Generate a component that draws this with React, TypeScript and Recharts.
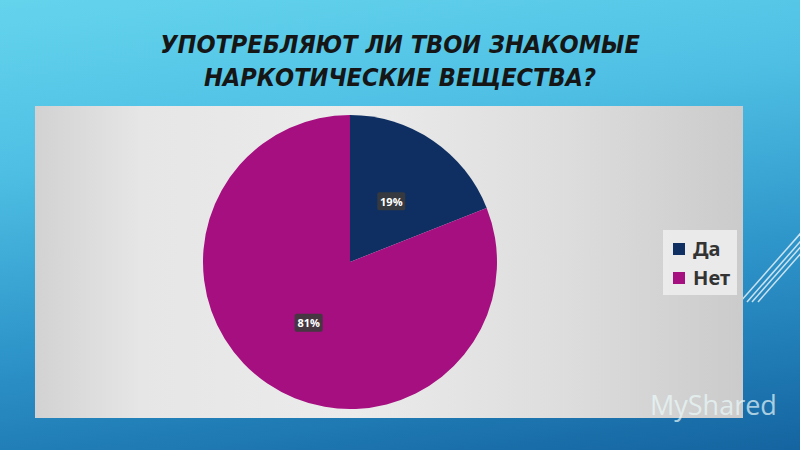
import React from "react";
import { PieChart, Pie, Cell, Legend } from "recharts";

const categories = ["Да", "Нет"];
const shares = [19, 81];
const sliceColors = ["#0f2f63", "#a50f80"];

const titleLines = [
  "УПОТРЕБЛЯЮТ ЛИ ТВОИ ЗНАКОМЫЕ",
  "НАРКОТИЧЕСКИЕ ВЕЩЕСТВА?",
];

const data = categories.map((name, i) => ({ name, value: shares[i] }));

const RAD = Math.PI / 180;

function renderLabel(props: any) {
  const { cx, cy, midAngle, outerRadius, value } = props;
  const r = outerRadius * 0.5;
  const x = cx + r * Math.cos(-midAngle * RAD);
  const y = cy + r * Math.sin(-midAngle * RAD);
  return (
    <g>
      <rect
        x={x - 14}
        y={y - 9}
        width={28}
        height={18}
        rx={2}
        fill="#3b3b3b"
        fillOpacity={0.9}
      />
      <text
        x={x}
        y={y}
        textAnchor="middle"
        dominantBaseline="central"
        fill="#ffffff"
        fontSize={11}
        fontWeight={700}
        fontFamily="'Open Sans', sans-serif"
      >
        {`${value}%`}
      </text>
    </g>
  );
}

function LegendBox(props: any) {
  const items = props.payload || [];
  return (
    <div
      style={{
        background: "rgba(238,238,238,0.85)",
        width: 74,
        height: 65,
        boxSizing: "border-box",
        padding: "4px 0 0 10px",
      }}
    >
      {items.map((it: any) => (
        <div
          key={it.value}
          style={{
            display: "flex",
            alignItems: "center",
            height: 29,
            fontFamily: "'Noto Sans', sans-serif",
            fontWeight: 700,
            fontSize: 20,
            color: "#333333",
          }}
        >
          <span
            style={{
              display: "inline-block",
              width: 12,
              height: 12,
              background: it.color,
              marginRight: 8,
            }}
          />
          {it.value}
        </div>
      ))}
    </div>
  );
}

export default function App() {
  return (
    <div
      style={{
        position: "absolute",
        left: 0,
        top: 0,
        width: 800,
        height: 450,
        overflow: "hidden",
        background:
          "linear-gradient(172deg, #64d4ed 0%, #4fc0e4 30%, #2c92c8 65%, #1464a0 100%)",
      }}
    >
      <svg
        width={800}
        height={450}
        style={{ position: "absolute", left: 0, top: 0 }}
      >
        {[0, 7, 12, 18].map((d) => (
          <line
            key={d}
            x1={740 + d}
            y1={302}
            x2={830 + d}
            y2={200}
            stroke="#ffffff"
            strokeOpacity={0.75}
            strokeWidth={1.5}
          />
        ))}
      </svg>
      <div
        style={{
          position: "absolute",
          left: 0,
          top: 28,
          width: 800,
          textAlign: "center",
          fontFamily: "'Liberation Sans Narrow', 'DejaVu Sans Condensed', sans-serif",
          fontWeight: 700,
          fontStyle: "italic",
          fontSize: 25,
          lineHeight: "33px",
          color: "#161616",
        }}
      >
        {titleLines.map((t) => (
          <div key={t}>{t}</div>
        ))}
      </div>
      <div
        style={{
          position: "absolute",
          left: 35,
          top: 106,
          width: 708,
          height: 312,
          background:
            "linear-gradient(90deg, #d2d2d2 0%, #e6e6e6 15%, #ebebeb 45%, #dddddd 75%, #cbcbcb 100%)",
        }}
      >
        <PieChart width={708} height={312} margin={{ top: 0, right: 0, bottom: 0, left: 0 }}>
          <Pie
            data={data}
            dataKey="value"
            nameKey="name"
            cx={315}
            cy={156}
            outerRadius={147}
            startAngle={90}
            endAngle={-270}
            stroke="none"
            label={renderLabel}
            labelLine={false}
            isAnimationActive={false}
          >
            {data.map((d, i) => (
              <Cell key={d.name} fill={sliceColors[i]} />
            ))}
          </Pie>
          <Legend
            layout="vertical"
            content={<LegendBox />}
            wrapperStyle={{ left: 628, top: 124, width: 74 }}
          />
        </PieChart>
      </div>
      <div
        style={{
          position: "absolute",
          left: 650,
          top: 386,
          fontFamily: "'Open Sans', sans-serif",
          fontSize: 27,
          color: "rgba(235,250,250,0.7)",
        }}
      >
        MyShared
      </div>
    </div>
  );
}
